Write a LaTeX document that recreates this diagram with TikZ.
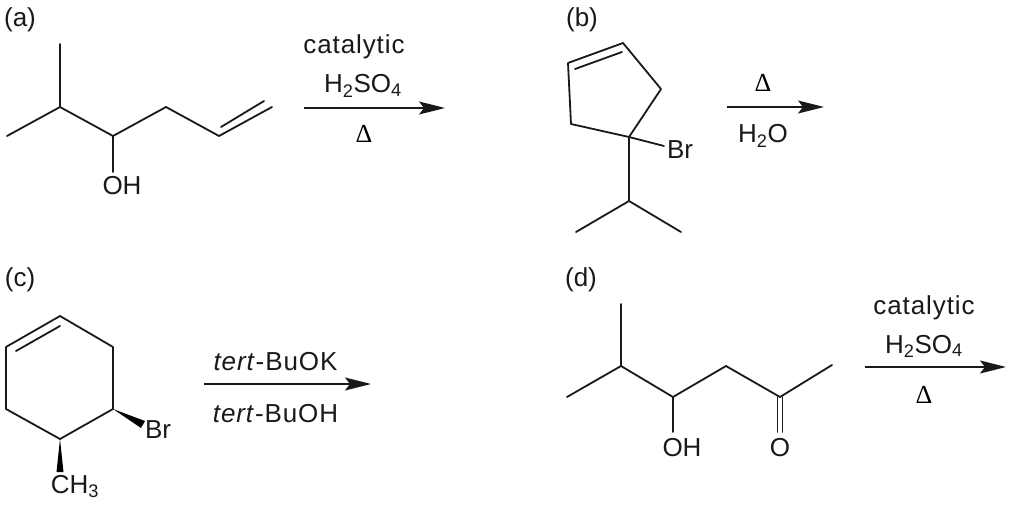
\documentclass[tikz,border=0pt]{standalone}
\usepackage{xcolor}
\usepackage{fontspec}
\setmainfont{Liberation Sans}
\newfontfamily\deltafont{Liberation Serif}
\usetikzlibrary{arrows.meta}
\definecolor{inkgrey}{RGB}{25,25,25}
\tikzset{
    bond/.style={draw=inkgrey, line width=1.8pt, line cap=round, line join=round},
    rxnarrow/.style={draw=inkgrey, line width=1.8pt, -{Stealth[length=26pt,width=13pt,inset=5pt]}},
    wedge/.style={fill=black},
    chemtext/.style={inner sep=0pt, anchor=base, text=inkgrey, font=\fontsize{26}{30}\selectfont},
    widetext/.style={chemtext, font=\fontsize{26}{30}\selectfont\addfontfeature{LetterSpace=3.5}},
    deltatext/.style={inner sep=0pt, anchor=base, text=black, font=\deltafont\fontsize{26}{30}\selectfont}
}

\begin{document}
\begin{tikzpicture}[x=1pt, y=-1pt]
    \useasboundingbox (0,0) rectangle (1010,505);

    % Panel a
    \node[chemtext] (labela) at (20,27) {(a)};
    \coordinate (a1) at (60,44);
    \coordinate (a2) at (60,107);
    \coordinate (a3) at (7,136);
    \coordinate (a4) at (113,136);
    \coordinate (a5) at (166,107);
    \coordinate (a6) at (219,136);
    \coordinate (a7) at (272,107);
    \coordinate (a6i) at (221,127);
    \coordinate (a7i) at (264,101);
    \coordinate (a8) at (113,172);
    \node[chemtext] (oha) at (122,195) {OH};
    \draw[bond] (a1) -- (a2);
    \draw[bond] (a3) -- (a2) -- (a4) -- (a5) -- (a6) -- (a7);
    \draw[bond] (a6i) -- (a7i);
    \draw[bond] (a4) -- (a8);
    \coordinate (arra1) at (304,108);
    \coordinate (arra2) at (445,108);
    \draw[rxnarrow] (arra1) -- (arra2);
    \node[widetext] (cata) at (354,54) {catalytic};
    \node[chemtext] (acida) at (363,93) {H\textsubscript{2}SO\textsubscript{4}};
    \node[deltatext] (deltaa) at (364,143) {Δ};

    % Panel b
    \node[chemtext] (labelb) at (582,27) {(b)};
    \coordinate (b1) at (568,63);
    \coordinate (b2) at (623,43);
    \coordinate (b3) at (661,89);
    \coordinate (b4) at (629,137);
    \coordinate (b5) at (571,124);
    \coordinate (b1i) at (575,69);
    \coordinate (b2i) at (622,52);
    \coordinate (b6) at (664,146);
    \coordinate (b7) at (629,201);
    \coordinate (b8) at (576,232);
    \coordinate (b9) at (681,232);
    \node[chemtext] (brb) at (680,159) {Br};
    \draw[bond] (b1) -- (b2) -- (b3) -- (b4) -- (b5) -- (b1);
    \draw[bond] (b1i) -- (b2i);
    \draw[bond] (b4) -- (b6);
    \draw[bond] (b4) -- (b7);
    \draw[bond] (b8) -- (b7) -- (b9);
    \coordinate (arrb1) at (727,107);
    \coordinate (arrb2) at (824,107);
    \draw[rxnarrow] (arrb1) -- (arrb2);
    \node[deltatext] (deltab) at (763,92) {Δ};
    \node[chemtext] (waterb) at (763,143) {H\textsubscript{2}O};

    % Panel c
    \node[chemtext] (labelc) at (20,287) {(c)};
    \coordinate (c1) at (6,347);
    \coordinate (c2) at (60,316);
    \coordinate (c3) at (113,347);
    \coordinate (c4) at (113,409);
    \coordinate (c5) at (60,439);
    \coordinate (c6) at (6,409);
    \coordinate (c1i) at (16,351);
    \coordinate (c2i) at (60,326);
    \coordinate (c7) at (145,421);
    \coordinate (c8) at (141,428);
    \coordinate (c9) at (56.5,472);
    \coordinate (c10) at (63.5,472);
    \node[chemtext] (brc) at (158,438) {Br};
    \node[chemtext] (mec) at (75,493) {CH\textsubscript{3}};
    \draw[bond] (c1) -- (c2) -- (c3) -- (c4) -- (c5) -- (c6) -- (c1);
    \draw[bond] (c1i) -- (c2i);
    \fill[wedge] (c4) -- (c7) -- (c8) -- cycle;
    \fill[wedge] (c5) -- (c9) -- (c10) -- cycle;
    \coordinate (arrc1) at (204,384);
    \coordinate (arrc2) at (371,384);
    \draw[rxnarrow] (arrc1) -- (arrc2);
    \node[widetext] (basec) at (275.5,370) {\textit{tert}-BuOK};
    \node[widetext] (solvc) at (275.5,422) {\textit{tert}-BuOH};

    % Panel d
    \node[chemtext] (labeld) at (581,287) {(d)};
    \coordinate (d1) at (621,304);
    \coordinate (d2) at (621,366);
    \coordinate (d3) at (567,397);
    \coordinate (d4) at (673,397);
    \coordinate (d5) at (726,366);
    \coordinate (d6) at (780,397);
    \coordinate (d7) at (832,365);
    \coordinate (d8) at (673,432);
    \coordinate (d9) at (777.5,397);
    \coordinate (d10) at (777.5,432);
    \coordinate (d11) at (782.5,397);
    \coordinate (d12) at (782.5,432);
    \node[chemtext] (ohd) at (682,456) {OH};
    \node[chemtext] (od) at (780,456) {O};
    \draw[bond] (d1) -- (d2);
    \draw[bond] (d3) -- (d2) -- (d4) -- (d5) -- (d6) -- (d7);
    \draw[bond] (d4) -- (d8);
    \draw[bond] (d9) -- (d10);
    \draw[bond] (d11) -- (d12);
    \coordinate (arrd1) at (865,367);
    \coordinate (arrd2) at (1006,367);
    \draw[rxnarrow] (arrd1) -- (arrd2);
    \node[widetext] (catd) at (924,314) {catalytic};
    \node[chemtext] (acidd) at (924,353) {H\textsubscript{2}SO\textsubscript{4}};
    \node[deltatext] (deltad) at (924,403) {Δ};
\end{tikzpicture}
\end{document}
